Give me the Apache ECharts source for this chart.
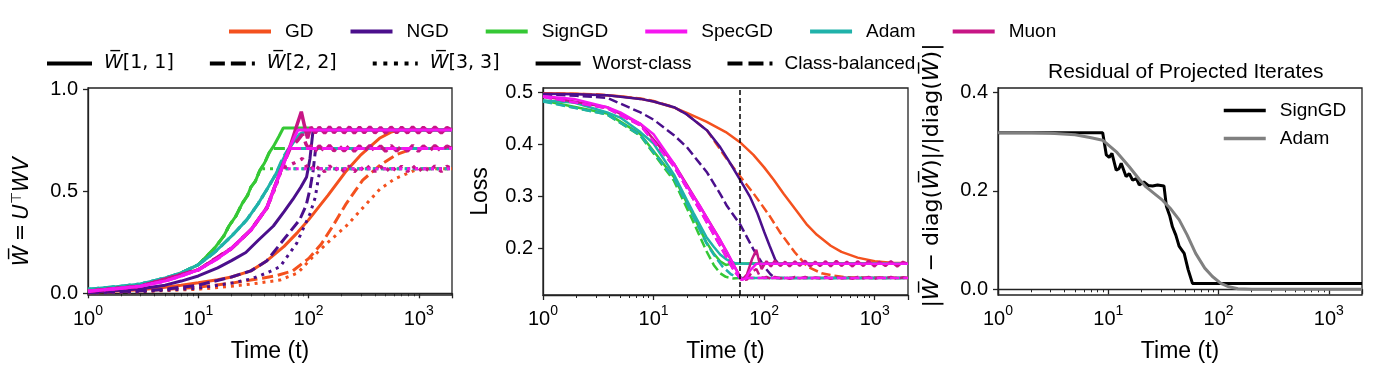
<!DOCTYPE html>
<html>
<head>
<meta charset="utf-8">
<script src="https://cdn.jsdelivr.net/npm/echarts@6/dist/echarts.min.js"></script>
<style>
  html, body { margin: 0; background: #fff; }
  #main { width: 1376px; height: 380px; }
</style>
</head>
<body>
<div id="main"></div>
<script>
// 图例名称
const OPTIMIZERS = ['GD', 'NGD', 'SignGD', 'SpecGD', 'Adam', 'Muon'];
const STYLE_NAMES = ['W11', 'W22', 'W33', 'Worst-class', 'Class-balanced'];
const X_TICKS = [1, 10, 100, 1000];
const VLINE_T = 60; // 竖直虚线位置

// 左图：W 对角元 [t, 值]
const W_GD_11 = [[1,0.005],[2,0.012],[3,0.018],[5,0.03],[7,0.04],[10,0.052],[15,0.066],[20,0.08],[30,0.11],[42,0.16],[60,0.23],[80,0.3],[100,0.36],[150,0.48],[220,0.6],[300,0.68],[440,0.76],[560,0.79],[670,0.8],[2000,0.8]];
const W_GD_22 = [[1,0.003],[3,0.012],[10,0.03],[20,0.05],[30,0.065],[50,0.085],[72,0.11],[100,0.17],[130,0.24],[166,0.33],[220,0.44],[310,0.555],[450,0.63],[630,0.68],[890,0.71],[2000,0.71]];
const W_GD_33 = [[1,0.002],[3,0.008],[10,0.02],[20,0.035],[30,0.045],[55,0.065],[80,0.1],[110,0.18],[150,0.25],[220,0.33],[300,0.41],[442,0.51],[600,0.56],[890,0.6],[1100,0.61],[2000,0.61]];
const W_NGD_11 = [[1,0.005],[2,0.015],[3,0.022],[5,0.04],[7,0.06],[10,0.085],[15,0.125],[20,0.16],[27,0.2],[35,0.26],[48,0.33],[60,0.4],[72,0.46],[85,0.52],[96,0.57],[103,0.66],[110,0.8],[2000,0.8]];
const W_NGD_22 = [[1,0.003],[3,0.012],[5,0.02],[10,0.04],[20,0.08],[30,0.11],[42,0.16],[63,0.28],[83,0.36],[95,0.43],[103,0.51],[110,0.6],[116,0.71],[2000,0.71]];
const W_NGD_33 = [[1,0.002],[3,0.008],[10,0.025],[20,0.05],[30,0.07],[42,0.1],[55,0.13],[78,0.245],[103,0.39],[115,0.47],[122,0.555],[128,0.61],[2000,0.61]];
const W_SIGN_11 = [[1,0.015],[2,0.028],[3,0.04],[5,0.07],[7,0.1],[10,0.14],[14,0.22],[17,0.28],[19,0.33],[22,0.38],[25,0.44],[28,0.48],[30,0.52],[33,0.55],[36,0.6],[40,0.64],[44,0.69],[48,0.72],[54,0.77],[59,0.81],[100,0.81],[110,0.8],[2000,0.8]];
const W_SIGN_22 = [[1,0.015],[2,0.028],[3,0.04],[5,0.07],[7,0.1],[10,0.14],[14,0.22],[17,0.28],[19,0.33],[22,0.38],[25,0.44],[28,0.48],[30,0.52],[33,0.55],[36,0.6],[40,0.64],[44,0.69],[48,0.71],[2000,0.71]];
const W_SIGN_33 = [[1,0.015],[2,0.028],[3,0.04],[5,0.07],[7,0.1],[10,0.14],[14,0.22],[17,0.28],[19,0.33],[22,0.38],[25,0.44],[28,0.48],[30,0.52],[33,0.55],[36,0.6],[38,0.61],[2000,0.61]];
const W_ADAM_11 = [[1,0.02],[2,0.035],[3,0.046],[5,0.075],[7,0.1],[10,0.14],[14,0.2],[20,0.28],[27.5,0.36],[35,0.44],[42,0.51],[50,0.58],[63,0.69],[75,0.75],[83,0.78],[100,0.8],[2000,0.8]];
const W_ADAM_22 = [[1,0.02],[2,0.035],[3,0.046],[5,0.075],[7,0.1],[10,0.14],[14,0.2],[20,0.28],[27.5,0.36],[35,0.44],[42,0.51],[50,0.58],[58,0.66],[66,0.71],[2000,0.71]];
const W_ADAM_33 = [[1,0.02],[2,0.035],[3,0.046],[5,0.075],[7,0.1],[10,0.14],[14,0.2],[20,0.28],[27.5,0.36],[35,0.44],[42,0.51],[50,0.58],[55,0.61],[2000,0.61]];
const W_SPEC_11 = [[1,0.01],[2,0.025],[3,0.035],[5,0.06],[7,0.085],[10,0.115],[15,0.17],[20,0.22],[30,0.31],[42,0.42],[55,0.59],[68,0.72],[80,0.8],[2000,0.8]];
const W_SPEC_22 = [[1,0.01],[2,0.025],[3,0.035],[5,0.06],[7,0.085],[10,0.115],[15,0.17],[20,0.22],[30,0.31],[42,0.42],[55,0.59],[62,0.66],[68,0.71],[2000,0.71]];
const W_SPEC_33 = [[1,0.01],[2,0.025],[3,0.035],[5,0.06],[7,0.085],[10,0.115],[15,0.17],[20,0.22],[30,0.31],[42,0.42],[50,0.52],[57,0.61],[2000,0.61]];
const W_MUON_11 = [[1,0.01],[3,0.035],[10,0.115],[20,0.22],[30,0.31],[42,0.42],[55,0.59],[68,0.72],[78,0.82],[86,0.89],[92,0.82],[98,0.76],[103,0.8]];
const W_MUON_22 = [[1,0.01],[3,0.035],[10,0.115],[20,0.22],[30,0.31],[42,0.42],[55,0.59],[68,0.71],[80,0.75],[88,0.78],[95,0.73],[100,0.71]];
const W_MUON_33 = [[1,0.01],[3,0.035],[10,0.115],[20,0.22],[30,0.31],[42,0.42],[50,0.52],[57,0.61],[75,0.64],[88,0.66],[96,0.62],[100,0.61]];

// Muon 平台期的抖动
const T_NOISE = [105,115,125,140,155,170,190,210,235,260,290,320,360,400,450,500,560,630,700,790,880,990,1100,1250,1400,1600,1800,2000];
const MUON_NOISE_11 = [0.815,0.786,0.814,0.785,0.816,0.787,0.813,0.786,0.815,0.785,0.814,0.787,0.816,0.786,0.813,0.785,0.815,0.787,0.814,0.786,0.816,0.785,0.814,0.787,0.815,0.786,0.813,0.8];
const MUON_NOISE_22 = [0.724,0.697,0.723,0.696,0.725,0.698,0.722,0.697,0.724,0.696,0.723,0.698,0.725,0.697,0.722,0.696,0.724,0.698,0.723,0.697,0.725,0.696,0.723,0.698,0.724,0.697,0.722,0.71];
const MUON_NOISE_33 = [0.624,0.597,0.623,0.596,0.625,0.598,0.622,0.597,0.624,0.596,0.623,0.598,0.625,0.597,0.622,0.596,0.624,0.598,0.623,0.597,0.625,0.596,0.623,0.598,0.624,0.597,0.622,0.61];

// 中图：损失
const L_GD_W = [[1,0.499],[2,0.498],[3,0.496],[5,0.493],[7.6,0.488],[10,0.483],[15,0.472],[20,0.461],[30,0.444],[45,0.424],[60,0.405],[80,0.38],[100,0.356],[122,0.332],[150,0.305],[200,0.27],[245,0.245],[300,0.226],[400,0.205],[500,0.193],[700,0.182],[1000,0.175],[1400,0.172],[2000,0.171]];
const L_GD_B = [[1,0.499],[3,0.497],[7.6,0.489],[10,0.484],[15.3,0.472],[20,0.458],[30.5,0.427],[46,0.372],[60,0.34],[80,0.306],[110,0.265],[141,0.229],[190,0.192],[245,0.165],[330,0.152],[428,0.147],[560,0.144],[2000,0.143]];
const L_NGD_W = [[1,0.498],[2,0.497],[3.8,0.495],[7.6,0.488],[10,0.483],[15.3,0.472],[20,0.458],[30.5,0.427],[40,0.395],[50,0.362],[61,0.331],[75,0.298],[87,0.267],[100,0.232],[112,0.205],[126,0.178],[135,0.17],[2000,0.17]];
const L_NGD_B = [[1,0.497],[2,0.494],[3.8,0.49],[7.6,0.462],[10,0.448],[15.3,0.418],[20,0.395],[30.5,0.346],[40,0.305],[46,0.282],[61,0.245],[80,0.198],[100,0.165],[114,0.15],[125,0.143],[2000,0.143]];
const L_SIGN_W = [[1,0.485],[3.8,0.46],[7.6,0.42],[15.3,0.337],[23,0.262],[30,0.212],[35,0.19],[40,0.175],[45,0.168],[50,0.17],[90,0.171],[2000,0.171]];
const L_SIGN_B = [[1,0.484],[3.8,0.458],[7.6,0.417],[15.3,0.33],[23,0.25],[30,0.195],[35,0.168],[40,0.152],[45,0.145],[52,0.142],[60,0.143],[2000,0.143]];
const L_ADAM_W = [[1,0.485],[1.9,0.481],[3.8,0.462],[5,0.452],[7.6,0.424],[10,0.402],[15.3,0.342],[20,0.293],[23,0.268],[30,0.222],[35,0.203],[40,0.188],[46,0.178],[55,0.171],[70,0.17],[2000,0.17]];
const L_ADAM_B = [[1,0.483],[3.8,0.458],[7.6,0.418],[15.3,0.335],[23,0.26],[30,0.21],[35,0.188],[42,0.165],[50,0.15],[60,0.143],[2000,0.143]];
const L_SPEC_W = [[1,0.493],[1.9,0.488],[3.8,0.472],[5,0.462],[7.6,0.44],[10,0.42],[15.3,0.363],[20,0.32],[26.5,0.28],[33,0.245],[40,0.216],[47,0.19],[53,0.168],[59,0.148],[63,0.139],[68,0.142],[75,0.158],[85,0.17],[2000,0.17]];
const L_SPEC_B = [[1,0.492],[3.8,0.47],[7.6,0.437],[15.3,0.358],[26.5,0.272],[40,0.205],[53,0.158],[63,0.138],[70,0.143],[2000,0.143]];
const L_MUON_W = [[1,0.493],[3.8,0.472],[7.6,0.44],[15.3,0.363],[26.5,0.28],[40,0.216],[53,0.168],[63,0.139],[70,0.15],[78,0.18],[85,0.197],[90,0.175],[95,0.16],[100,0.168]];
const L_MUON_B = [[1,0.492],[3.8,0.47],[7.6,0.437],[15.3,0.358],[26.5,0.272],[40,0.205],[53,0.158],[63,0.138],[70,0.14],[78,0.155],[85,0.16],[92,0.145],[100,0.143]];
const MUON_LOSS_NOISE_W = [0.175,0.165,0.176,0.166,0.174,0.165,0.175,0.166,0.176,0.165,0.174,0.166,0.175,0.165,0.176,0.166,0.174,0.165,0.175,0.166,0.176,0.165,0.174,0.166,0.175,0.165,0.174,0.17];
const MUON_LOSS_NOISE_B = [0.145,0.141,0.145,0.142,0.144,0.141,0.145,0.142,0.145,0.141,0.144,0.142,0.145,0.141,0.145,0.142,0.144,0.141,0.145,0.142,0.145,0.141,0.144,0.142,0.145,0.141,0.144,0.143];

// 右图：残差
const R_SIGN = [[1,0.318],[8.9,0.318],[9.6,0.273],[10.2,0.268],[10.8,0.276],[11.8,0.242],[12.5,0.245],[13.1,0.256],[14.5,0.229],[15.5,0.235],[16.6,0.222],[18,0.225],[19.1,0.212],[21,0.218],[23,0.211],[25.2,0.21],[28,0.212],[32,0.21],[33.7,0.168],[36,0.15],[38.2,0.127],[41,0.11],[44,0.087],[48.8,0.073],[53,0.04],[58,0.012],[2000,0.012]];
const R_ADAM = [[1,0.318],[2,0.318],[3,0.317],[5,0.314],[7,0.308],[8.9,0.303],[12,0.278],[15.5,0.249],[19,0.224],[22,0.208],[26,0.195],[31,0.181],[37,0.163],[44,0.141],[52,0.11],[62,0.073],[75,0.043],[88,0.026],[105,0.012],[124,0.005],[150,0.001],[200,0],[2000,0]];

const COLORS = { GD: '#f4511e', NGD: '#4b0f8c', SignGD: '#35c835', SpecGD: '#f516f0', Adam: '#20b2aa', Muon: '#c71585' };
const F = 'Liberation Sans';
const M = 'DejaVu Sans';
const AX = '#222';

var chart = echarts.init(document.getElementById('main'));

function withNoise(rise, vals) {
  return rise.concat(T_NOISE.map((t, i) => [t, vals[i]]));
}

function dashFor(kind, w) {
  if (kind === 'dash') return [3.7 * w, 1.6 * w];
  if (kind === 'dot') return [w, 1.65 * w];
  return 'solid';
}

function line(name, g, data, color, kind, w) {
  return {
    name: name, type: 'line', xAxisIndex: g, yAxisIndex: g, data: data,
    symbol: 'none', showSymbol: false, clip: true, silent: true,
    lineStyle: { color: color, width: w, type: dashFor(kind, w) },
    itemStyle: { color: color }
  };
}

var series = [];
// 左图
var wData = {
  GD: [W_GD_11, W_GD_22, W_GD_33],
  NGD: [W_NGD_11, W_NGD_22, W_NGD_33],
  SignGD: [W_SIGN_11, W_SIGN_22, W_SIGN_33],
  Adam: [W_ADAM_11, W_ADAM_22, W_ADAM_33],
  Muon: [withNoise(W_MUON_11, MUON_NOISE_11), withNoise(W_MUON_22, MUON_NOISE_22), withNoise(W_MUON_33, MUON_NOISE_33)],
  SpecGD: [W_SPEC_11, W_SPEC_22, W_SPEC_33]
};
['GD', 'NGD', 'SignGD', 'Adam', 'Muon', 'SpecGD'].forEach(function (k) {
  ['solid', 'dash', 'dot'].forEach(function (kind, j) {
    series.push(line(k, 0, wData[k][j], COLORS[k], kind, k === 'Muon' ? 3.5 : 3));
  });
});
// 中图
var lData = {
  GD: [L_GD_W, L_GD_B],
  NGD: [L_NGD_W, L_NGD_B],
  SignGD: [L_SIGN_W, L_SIGN_B],
  Adam: [L_ADAM_W, L_ADAM_B],
  Muon: [withNoise(L_MUON_W, MUON_LOSS_NOISE_W), withNoise(L_MUON_B, MUON_LOSS_NOISE_B)],
  SpecGD: [L_SPEC_W, L_SPEC_B]
};
['GD', 'NGD', 'SignGD', 'Adam', 'Muon', 'SpecGD'].forEach(function (k) {
  ['solid', 'dash'].forEach(function (kind, j) {
    series.push(line(k, 1, lData[k][j], COLORS[k], kind, 2.5));
  });
});
series.push({
  type: 'line', xAxisIndex: 1, yAxisIndex: 1, data: [], silent: true,
  markLine: {
    silent: true, symbol: ['none', 'none'], label: { show: false },
    lineStyle: { color: '#000', width: 1.5, type: [5, 3] },
    data: [{ xAxis: VLINE_T }]
  },
  z: 5
});
// 右图
series.push(line('res-SignGD', 2, R_SIGN, '#000', 'solid', 3));
series.push(line('res-Adam', 2, R_ADAM, '#808080', 'solid', 3));
// 只用于第二行图例
series.push(line('W11', 0, [], '#000', 'solid', 4));
series.push(Object.assign(line('W22', 0, [], '#000', 'solid', 4), { lineStyle: { color: '#000', width: 4, type: [15, 6] } }));
series.push(Object.assign(line('W33', 0, [], '#000', 'solid', 4), { lineStyle: { color: '#000', width: 4, type: [4, 6.6] } }));
series.push(line('Worst-class', 0, [], '#000', 'solid', 4));
series.push(Object.assign(line('Class-balanced', 0, [], '#000', 'solid', 4), { lineStyle: { color: '#000', width: 4, type: [15, 6] } }));

var LEGEND2_TEXT = {
  W11: '{w|W\u0305}{m|[1, 1]}',
  W22: '{w|W\u0305}{m|[2, 2]}',
  W33: '{w|W\u0305}{m|[3, 3]}',
  'Worst-class': 'Worst-class',
  'Class-balanced': 'Class-balanced'
};

var GRIDS = [
  { left: 88, top: 88, width: 364, height: 207 },
  { left: 543, top: 88, width: 365, height: 207 },
  { left: 998, top: 88, width: 364, height: 207 }
];

// 图例中不画圆点
var NO_SYMBOL = { opacity: 0, borderWidth: 0 };

function xAxisFor(i) {
  return {
    type: 'log', logBase: 10, gridIndex: i, min: 1, max: 2000,
    name: 'Time (t)', nameLocation: 'middle', nameGap: 45,
    nameTextStyle: { fontSize: 23, fontFamily: F, color: '#000' },
    axisLine: { show: true, lineStyle: { color: AX, width: 1.3 } },
    axisTick: { show: true, length: 5, lineStyle: { color: AX, width: 1.3 } },
    minorTick: { show: true, splitNumber: 9, length: 3, lineStyle: { color: AX, width: 1 } },
    splitLine: { show: false }, minorSplitLine: { show: false },
    axisLabel: {
      margin: 9, showMaxLabel: false,
      formatter: function (v) {
        var e = Math.round(Math.log10(v));
        if (X_TICKS.indexOf(v) < 0) return '';
        return '{b|10}{s|' + e + '}';
      },
      rich: {
        b: { fontSize: 20, fontFamily: F, color: '#000', verticalAlign: 'bottom' },
        s: { fontSize: 14, fontFamily: F, color: '#000', verticalAlign: 'bottom', padding: [0, 0, 11, 0] }
      }
    }
  };
}

function yAxisFor(i, min, max, ticks, name, nameGap, nameStyle) {
  return {
    type: 'value', gridIndex: i, min: min, max: max,
    name: name, nameLocation: 'middle', nameRotate: 90, nameGap: nameGap,
    nameTextStyle: nameStyle,
    axisLine: { show: true, lineStyle: { color: AX, width: 1.3 } },
    axisTick: { show: true, length: 5, customValues: ticks, lineStyle: { color: AX, width: 1.3 } },
    splitLine: { show: false },
    axisLabel: {
      customValues: ticks, margin: 10, fontSize: 20, fontFamily: F, color: '#000',
      formatter: function (v) { return v.toFixed(1); }
    }
  };
}

var option = {
  animation: false,
  backgroundColor: '#fff',
  title: {
    text: 'Residual of Projected Iterates', left: 1043, top: 57,
    textStyle: { fontSize: 21, fontWeight: 'normal', fontFamily: F, color: '#000' }
  },
  legend: [
    {
      data: OPTIMIZERS, left: 227, top: 22, padding: 0, itemWidth: 42, itemHeight: 14, itemGap: 35,
      selectedMode: false, lineStyle: { width: 4 }, itemStyle: NO_SYMBOL,
      textStyle: { fontSize: 19, fontFamily: F, color: '#000', padding: [0, 0, 0, 9] }
    },
    {
      data: STYLE_NAMES, left: 45, top: 54, padding: 0, itemWidth: 45, itemHeight: 14, itemGap: 34,
      selectedMode: false, lineStyle: { width: 4 }, itemStyle: NO_SYMBOL,
      formatter: function (n) { return LEGEND2_TEXT[n]; },
      textStyle: {
        fontSize: 19, fontFamily: F, color: '#000', padding: [0, 0, 0, 7],
        rich: {
          w: { fontSize: 19, fontFamily: M, fontStyle: 'italic', color: '#000' },
          m: { fontSize: 19, fontFamily: M, color: '#000' }
        }
      }
    },
    {
      data: ['res-SignGD', 'res-Adam'], left: 1222, top: 101, padding: 0, orient: 'vertical',
      itemWidth: 42, itemHeight: 14, itemGap: 9, selectedMode: false, lineStyle: { width: 3.5 }, itemStyle: NO_SYMBOL,
      formatter: function (n) { return n.replace('res-', ''); },
      textStyle: { fontSize: 19, fontFamily: F, color: '#000', padding: [0, 0, 0, 9] }
    }
  ],
  grid: GRIDS.map(function (g) {
    return Object.assign({ show: true, borderColor: AX, borderWidth: 1.3, backgroundColor: 'transparent' }, g);
  }),
  xAxis: [xAxisFor(0), xAxisFor(1), xAxisFor(2)],
  yAxis: [
    yAxisFor(0, -0.0083, 1.0064, [0, 0.5, 1], '{i|W\u0305}\u2009=\u2009{i|U}{s|\u22A4}{i|WV}', 55, {
      fontSize: 21, fontFamily: M, color: '#000', padding: [0, 40, 0, 0],
      rich: {
        i: { fontSize: 21, fontFamily: M, fontStyle: 'italic', color: '#000', verticalAlign: 'bottom' },
        s: { fontSize: 14, fontFamily: M, color: '#000', verticalAlign: 'bottom', padding: [0, 0, 9, 0] }
      }
    }),
    yAxisFor(1, 0.11, 0.509, [0.2, 0.3, 0.4, 0.5], 'Loss', 51, { fontSize: 23, fontFamily: F, color: '#000' }),
    yAxisFor(2, -0.0116, 0.409, [0, 0.2, 0.4], '|{i|W\u0305} \u2212 diag({i|W\u0305})|/|diag({i|W\u0305})|', 55, {
      fontSize: 22, fontFamily: M, color: '#000', padding: [0, 0, 0, 32],
      rich: { i: { fontSize: 22, fontFamily: M, fontStyle: 'italic', color: '#000' } }
    })
  ],
  series: series
};

chart.setOption(option);
</script>
</body>
</html>
